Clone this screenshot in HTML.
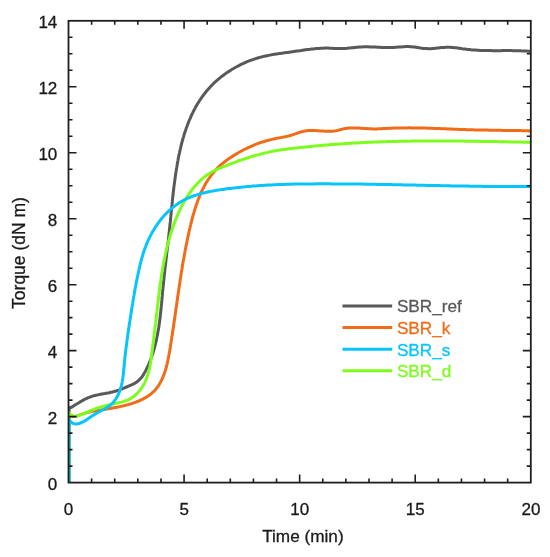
<!DOCTYPE html>
<html><head><meta charset="utf-8"><style>
html,body{margin:0;padding:0;background:#fff;width:550px;height:557px;overflow:hidden}
svg{display:block}
</style></head><body>
<svg width="550" height="557" viewBox="0 0 550 557">
<defs><clipPath id="c"><rect x="68.5" y="18.8" width="462.3" height="463.8"/></clipPath></defs>
<g clip-path="url(#c)" fill="none" stroke-width="3" stroke-linejoin="round" stroke-linecap="round">
<path stroke="#58595b" d="M69.10 482.50 L69.10 407.50 L70.80 407.60 L70.8 407.6 L72.1 406.9 L73.3 406.1 L74.6 405.3 L75.9 404.5 L77.2 403.7 L78.5 403.0 L79.7 402.2 L81.0 401.4 L82.4 400.7 L83.7 399.9 L85.0 399.2 L86.3 398.6 L87.7 397.9 L89.1 397.4 L90.5 396.8 L91.9 396.4 L93.3 395.9 L94.7 395.5 L96.1 395.2 L97.6 394.9 L99.1 394.6 L100.5 394.3 L102.0 394.0 L103.5 393.7 L104.9 393.5 L106.4 393.2 L107.9 392.9 L109.4 392.7 L110.8 392.3 L112.3 392.0 L113.7 391.6 L115.2 391.2 L116.6 390.8 L118.0 390.3 L119.5 389.8 L120.9 389.3 L122.3 388.8 L123.7 388.2 L125.1 387.6 L126.5 387.0 L127.9 386.4 L129.3 385.8 L130.7 385.2 L132.1 384.6 L133.5 383.9 L134.8 383.2 L136.1 382.4 L137.3 381.6 L138.4 380.7 L139.5 379.7 L140.5 378.6 L141.4 377.5 L142.3 376.3 L143.1 375.1 L143.9 373.8 L144.7 372.5 L145.4 371.2 L146.1 369.8 L146.8 368.5 L147.4 367.1 L148.0 365.8 L148.7 364.4 L149.2 363.1 L149.8 361.7 L150.4 360.3 L150.9 358.9 L151.4 357.5 L151.9 356.1 L152.4 354.7 L152.8 353.3 L153.3 351.9 L153.7 350.5 L154.1 349.0 L154.5 347.6 L154.9 346.2 L155.3 344.7 L155.6 343.3 L156.0 341.9 L156.3 340.4 L156.6 339.0 L156.9 337.5 L157.2 336.0 L157.5 334.6 L157.8 333.1 L158.0 331.6 L158.3 330.1 L158.5 328.7 L158.8 327.2 L159.0 325.7 L159.2 324.2 L159.4 322.7 L159.6 321.2 L159.8 319.7 L160.0 318.3 L160.2 316.8 L160.3 315.3 L160.5 313.8 L160.7 312.3 L160.8 310.8 L161.0 309.3 L161.1 307.7 L161.3 306.2 L161.4 304.7 L161.6 303.2 L161.7 301.7 L161.9 300.2 L162.0 298.7 L162.1 297.2 L162.3 295.7 L162.4 294.2 L162.5 292.7 L162.7 291.2 L162.8 289.7 L163.0 288.2 L163.1 286.7 L163.3 285.2 L163.4 283.7 L163.6 282.2 L163.7 280.7 L163.9 279.2 L164.0 277.7 L164.2 276.2 L164.3 274.7 L164.5 273.2 L164.7 271.7 L164.8 270.2 L165.0 268.7 L165.2 267.2 L165.3 265.7 L165.5 264.2 L165.7 262.7 L165.9 261.2 L166.0 259.7 L166.2 258.3 L166.4 256.8 L166.5 255.3 L166.7 253.8 L166.9 252.3 L167.1 250.8 L167.2 249.3 L167.4 247.9 L167.6 246.4 L167.8 244.9 L167.9 243.4 L168.1 241.9 L168.3 240.4 L168.4 239.0 L168.6 237.5 L168.8 236.0 L168.9 234.5 L169.1 233.0 L169.3 231.5 L169.4 230.1 L169.6 228.6 L169.7 227.1 L169.9 225.6 L170.0 224.1 L170.2 222.7 L170.4 221.2 L170.5 219.7 L170.6 218.2 L170.8 216.7 L170.9 215.2 L171.1 213.8 L171.2 212.3 L171.4 210.8 L171.5 209.3 L171.7 207.8 L171.8 206.4 L172.0 204.9 L172.1 203.4 L172.3 201.9 L172.4 200.4 L172.6 198.9 L172.7 197.5 L172.9 196.0 L173.1 194.5 L173.2 193.0 L173.4 191.5 L173.6 190.0 L173.7 188.5 L173.9 187.1 L174.1 185.6 L174.3 184.1 L174.5 182.6 L174.7 181.1 L174.9 179.6 L175.1 178.1 L175.3 176.7 L175.5 175.2 L175.7 173.7 L175.9 172.2 L176.2 170.7 L176.4 169.2 L176.7 167.7 L176.9 166.2 L177.2 164.7 L177.4 163.2 L177.7 161.7 L178.0 160.3 L178.2 158.8 L178.5 157.3 L178.8 155.8 L179.1 154.3 L179.5 152.8 L179.8 151.3 L180.1 149.8 L180.5 148.4 L180.8 146.9 L181.2 145.4 L181.5 143.9 L181.9 142.5 L182.3 141.0 L182.7 139.5 L183.1 138.1 L183.6 136.6 L184.0 135.2 L184.4 133.7 L184.9 132.3 L185.4 130.9 L185.9 129.4 L186.3 128.0 L186.9 126.6 L187.4 125.2 L187.9 123.8 L188.5 122.4 L189.0 121.0 L189.6 119.6 L190.2 118.3 L190.8 116.9 L191.4 115.5 L192.0 114.2 L192.7 112.9 L193.3 111.5 L194.0 110.2 L194.7 108.9 L195.4 107.6 L196.1 106.3 L196.8 105.0 L197.6 103.7 L198.4 102.5 L199.2 101.2 L200.0 100.0 L200.8 98.8 L201.6 97.6 L202.5 96.3 L203.4 95.2 L204.3 94.0 L205.2 92.8 L206.1 91.7 L207.0 90.5 L208.0 89.4 L209.0 88.3 L210.0 87.2 L211.0 86.1 L212.1 85.0 L213.1 84.0 L214.2 82.9 L215.3 81.9 L216.4 80.9 L217.6 79.9 L218.7 78.9 L219.9 78.0 L221.0 77.0 L222.2 76.1 L223.4 75.2 L224.7 74.3 L225.9 73.4 L227.1 72.5 L228.4 71.7 L229.7 70.9 L231.0 70.0 L232.2 69.3 L233.6 68.5 L234.9 67.7 L236.2 67.0 L237.5 66.3 L238.9 65.6 L240.2 64.9 L241.6 64.2 L243.0 63.6 L244.3 62.9 L245.7 62.3 L247.1 61.7 L248.5 61.2 L249.9 60.6 L251.3 60.1 L252.8 59.6 L254.2 59.1 L255.6 58.6 L257.0 58.2 L258.5 57.8 L259.9 57.4 L261.4 57.0 L262.8 56.6 L264.2 56.3 L265.7 56.0 L267.1 55.7 L268.6 55.4 L270.1 55.1 L271.5 54.8 L273.0 54.6 L274.4 54.3 L275.9 54.1 L277.4 53.9 L278.8 53.6 L280.3 53.4 L281.8 53.2 L283.3 53.0 L284.8 52.8 L286.2 52.6 L287.7 52.4 L289.2 52.2 L290.7 52.0 L292.2 51.8 L293.7 51.6 L295.2 51.3 L296.6 51.1 L298.1 50.9 L299.6 50.7 L301.1 50.5 L302.6 50.2 L304.1 50.0 L305.6 49.8 L307.1 49.6 L308.6 49.4 L310.1 49.3 L311.6 49.1 L313.1 48.9 L314.6 48.8 L316.1 48.6 L317.6 48.5 L319.1 48.4 L320.6 48.3 L322.1 48.2 L323.6 48.2 L325.1 48.1 L326.5 48.1 L328.0 48.1 L329.5 48.2 L331.0 48.2 L332.5 48.3 L334.0 48.4 L335.4 48.4 L336.9 48.5 L338.4 48.6 L339.9 48.6 L341.4 48.6 L342.8 48.6 L344.3 48.5 L345.8 48.4 L347.3 48.3 L348.8 48.1 L350.3 48.0 L351.8 47.8 L353.3 47.7 L354.7 47.5 L356.2 47.3 L357.7 47.2 L359.2 47.1 L360.7 47.0 L362.2 46.9 L363.7 46.8 L365.2 46.8 L366.7 46.8 L368.2 46.8 L369.7 46.9 L371.2 46.9 L372.7 47.0 L374.2 47.0 L375.7 47.1 L377.2 47.2 L378.7 47.2 L380.2 47.3 L381.7 47.4 L383.2 47.4 L384.7 47.5 L386.2 47.5 L387.7 47.5 L389.2 47.5 L390.7 47.5 L392.2 47.5 L393.7 47.4 L395.2 47.3 L396.7 47.2 L398.2 47.1 L399.7 47.0 L401.2 46.9 L402.7 46.8 L404.2 46.7 L405.7 46.6 L407.2 46.6 L408.7 46.6 L410.2 46.7 L411.6 46.8 L413.1 46.9 L414.6 47.1 L416.1 47.3 L417.6 47.5 L419.1 47.7 L420.6 48.0 L422.0 48.2 L423.5 48.4 L425.0 48.5 L426.5 48.6 L428.0 48.7 L429.5 48.7 L430.9 48.7 L432.4 48.6 L433.9 48.5 L435.4 48.3 L436.9 48.1 L438.4 48.0 L439.9 47.8 L441.3 47.6 L442.8 47.5 L444.3 47.4 L445.8 47.3 L447.3 47.2 L448.8 47.2 L450.3 47.3 L451.7 47.4 L453.2 47.5 L454.7 47.7 L456.2 47.8 L457.7 48.0 L459.2 48.2 L460.7 48.4 L462.2 48.7 L463.6 48.9 L465.1 49.1 L466.6 49.3 L468.1 49.4 L469.6 49.6 L471.1 49.8 L472.6 49.9 L474.1 50.0 L475.6 50.1 L477.1 50.2 L478.6 50.3 L480.1 50.4 L481.6 50.4 L483.1 50.5 L484.6 50.5 L486.1 50.6 L487.6 50.6 L489.1 50.6 L490.6 50.6 L492.1 50.7 L493.6 50.7 L495.1 50.7 L496.6 50.7 L498.1 50.7 L499.6 50.7 L501.0 50.7 L502.5 50.6 L504.0 50.6 L505.5 50.6 L507.0 50.6 L508.5 50.6 L510.0 50.6 L511.5 50.6 L513.0 50.7 L514.5 50.7 L516.0 50.7 L517.5 50.7 L519.0 50.8 L520.5 50.8 L522.0 50.9 L523.5 50.9 L525.0 51.0 L526.5 51.1 L528.0 51.2 L529.5 51.3 L531.0 51.4"/>
<path stroke="#f26b16" d="M69.10 482.50 L69.10 415.00 L69.1 415.0 L70.6 415.8 L72.1 416.3 L73.5 416.5 L75.0 416.4 L76.4 416.2 L77.7 415.8 L79.1 415.2 L80.5 414.7 L81.9 414.1 L83.3 413.6 L84.8 413.2 L86.2 412.8 L87.7 412.4 L89.2 412.0 L90.7 411.7 L92.1 411.4 L93.6 411.1 L95.1 410.9 L96.6 410.6 L98.1 410.4 L99.6 410.2 L101.0 409.9 L102.5 409.7 L104.0 409.5 L105.4 409.3 L106.8 409.0 L108.3 408.8 L109.7 408.6 L111.1 408.3 L112.6 408.1 L114.0 407.8 L115.4 407.5 L116.9 407.2 L118.3 407.0 L119.8 406.6 L121.2 406.3 L122.7 406.0 L124.2 405.6 L125.7 405.3 L127.1 404.9 L128.6 404.5 L130.1 404.0 L131.6 403.6 L133.1 403.1 L134.5 402.6 L136.0 402.1 L137.4 401.5 L138.8 401.0 L140.2 400.4 L141.6 399.7 L143.0 399.1 L144.3 398.3 L145.6 397.6 L146.9 396.8 L148.1 396.0 L149.3 395.2 L150.5 394.3 L151.6 393.4 L152.7 392.4 L153.8 391.4 L154.8 390.4 L155.8 389.3 L156.7 388.1 L157.6 387.0 L158.4 385.8 L159.2 384.5 L159.9 383.2 L160.7 382.0 L161.3 380.6 L162.0 379.3 L162.6 377.9 L163.2 376.5 L163.7 375.1 L164.3 373.7 L164.7 372.3 L165.2 370.9 L165.6 369.4 L166.1 368.0 L166.5 366.5 L166.8 365.1 L167.2 363.6 L167.5 362.1 L167.8 360.7 L168.1 359.2 L168.4 357.7 L168.7 356.2 L169.0 354.7 L169.2 353.2 L169.5 351.7 L169.8 350.2 L170.0 348.7 L170.3 347.3 L170.5 345.8 L170.7 344.3 L171.0 342.8 L171.2 341.3 L171.4 339.8 L171.7 338.3 L171.9 336.8 L172.1 335.4 L172.4 333.9 L172.6 332.4 L172.8 330.9 L173.0 329.4 L173.3 327.9 L173.5 326.5 L173.7 325.0 L173.9 323.5 L174.1 322.0 L174.3 320.5 L174.6 319.1 L174.8 317.6 L175.0 316.1 L175.2 314.6 L175.4 313.1 L175.6 311.7 L175.8 310.2 L176.0 308.7 L176.2 307.2 L176.5 305.8 L176.7 304.3 L176.9 302.8 L177.1 301.3 L177.3 299.9 L177.5 298.4 L177.7 296.9 L177.9 295.5 L178.1 294.0 L178.4 292.5 L178.6 291.0 L178.8 289.6 L179.0 288.1 L179.2 286.6 L179.4 285.2 L179.7 283.7 L179.9 282.2 L180.1 280.7 L180.3 279.3 L180.6 277.8 L180.8 276.3 L181.0 274.9 L181.2 273.4 L181.5 271.9 L181.7 270.4 L182.0 269.0 L182.2 267.5 L182.4 266.0 L182.7 264.6 L182.9 263.1 L183.2 261.6 L183.4 260.2 L183.7 258.7 L184.0 257.2 L184.2 255.7 L184.5 254.3 L184.8 252.8 L185.0 251.3 L185.3 249.9 L185.6 248.4 L185.9 246.9 L186.2 245.4 L186.5 244.0 L186.8 242.5 L187.1 241.0 L187.4 239.6 L187.7 238.1 L188.0 236.6 L188.3 235.1 L188.6 233.7 L189.0 232.2 L189.3 230.7 L189.6 229.2 L190.0 227.8 L190.3 226.3 L190.7 224.8 L191.0 223.3 L191.4 221.9 L191.8 220.4 L192.1 218.9 L192.5 217.4 L192.9 216.0 L193.3 214.5 L193.7 213.1 L194.2 211.6 L194.6 210.1 L195.1 208.7 L195.5 207.3 L196.0 205.8 L196.5 204.4 L197.0 203.0 L197.5 201.6 L198.0 200.2 L198.5 198.8 L199.1 197.4 L199.6 196.0 L200.2 194.6 L200.8 193.2 L201.4 191.9 L202.1 190.5 L202.7 189.2 L203.4 187.9 L204.1 186.6 L204.8 185.3 L205.5 184.0 L206.2 182.7 L207.0 181.5 L207.8 180.2 L208.6 179.0 L209.4 177.8 L210.3 176.6 L211.1 175.4 L212.0 174.3 L213.0 173.1 L213.9 172.0 L214.9 170.9 L215.9 169.8 L216.9 168.7 L217.9 167.6 L219.0 166.6 L220.1 165.6 L221.2 164.6 L222.4 163.6 L223.6 162.6 L224.8 161.7 L226.0 160.8 L227.2 159.9 L228.4 159.0 L229.7 158.1 L231.0 157.3 L232.3 156.4 L233.6 155.6 L234.9 154.8 L236.2 154.0 L237.5 153.2 L238.8 152.5 L240.1 151.8 L241.5 151.0 L242.8 150.3 L244.1 149.6 L245.4 149.0 L246.8 148.3 L248.1 147.7 L249.5 147.1 L250.8 146.5 L252.2 145.9 L253.5 145.3 L254.9 144.7 L256.3 144.2 L257.6 143.7 L259.0 143.2 L260.4 142.7 L261.8 142.2 L263.2 141.8 L264.7 141.3 L266.1 140.9 L267.5 140.5 L269.0 140.1 L270.4 139.7 L271.9 139.4 L273.4 139.0 L274.8 138.7 L276.3 138.4 L277.8 138.1 L279.3 137.9 L280.7 137.6 L282.2 137.3 L283.7 137.1 L285.1 136.8 L286.6 136.4 L288.1 136.1 L289.5 135.7 L291.0 135.3 L292.4 134.9 L293.8 134.4 L295.3 133.9 L296.7 133.4 L298.1 132.9 L299.5 132.4 L301.0 132.0 L302.4 131.6 L303.8 131.2 L305.3 130.9 L306.8 130.7 L308.2 130.6 L309.7 130.5 L311.2 130.5 L312.7 130.5 L314.2 130.5 L315.7 130.6 L317.2 130.7 L318.7 130.8 L320.2 130.9 L321.7 131.0 L323.2 131.1 L324.8 131.2 L326.3 131.3 L327.8 131.3 L329.3 131.3 L330.8 131.3 L332.3 131.2 L333.7 131.1 L335.2 130.9 L336.7 130.6 L338.1 130.2 L339.6 129.9 L341.0 129.5 L342.5 129.1 L343.9 128.8 L345.4 128.5 L346.9 128.3 L348.3 128.1 L349.8 128.0 L351.3 127.9 L352.8 127.9 L354.3 127.9 L355.8 127.9 L357.3 128.0 L358.8 128.1 L360.3 128.2 L361.8 128.3 L363.3 128.4 L364.8 128.5 L366.3 128.6 L367.9 128.7 L369.4 128.8 L370.9 128.8 L372.4 128.9 L373.9 128.9 L375.4 128.9 L376.9 128.9 L378.4 128.8 L379.9 128.8 L381.4 128.7 L382.9 128.6 L384.4 128.6 L385.9 128.5 L387.4 128.4 L388.9 128.3 L390.4 128.3 L391.9 128.2 L393.4 128.1 L394.9 128.1 L396.3 128.0 L397.8 128.0 L399.3 128.0 L400.8 127.9 L402.3 127.9 L403.8 127.9 L405.3 127.9 L406.8 127.9 L408.3 127.8 L409.8 127.8 L411.3 127.9 L412.8 127.9 L414.3 127.9 L415.8 127.9 L417.3 127.9 L418.8 127.9 L420.3 128.0 L421.8 128.0 L423.3 128.0 L424.8 128.1 L426.3 128.1 L427.8 128.2 L429.3 128.2 L430.8 128.3 L432.3 128.3 L433.8 128.4 L435.2 128.4 L436.7 128.5 L438.2 128.5 L439.7 128.6 L441.2 128.7 L442.7 128.7 L444.2 128.8 L445.7 128.8 L447.2 128.9 L448.7 129.0 L450.2 129.0 L451.7 129.1 L453.2 129.2 L454.7 129.2 L456.2 129.3 L457.7 129.3 L459.2 129.4 L460.7 129.4 L462.2 129.5 L463.7 129.6 L465.2 129.6 L466.7 129.7 L468.2 129.7 L469.7 129.7 L471.2 129.8 L472.7 129.8 L474.2 129.9 L475.7 129.9 L477.2 129.9 L478.7 130.0 L480.1 130.0 L481.6 130.0 L483.1 130.1 L484.6 130.1 L486.1 130.1 L487.6 130.1 L489.1 130.2 L490.6 130.2 L492.1 130.2 L493.6 130.2 L495.1 130.2 L496.6 130.3 L498.1 130.3 L499.6 130.3 L501.1 130.3 L502.6 130.4 L504.1 130.4 L505.6 130.4 L507.1 130.4 L508.6 130.4 L510.1 130.5 L511.6 130.5 L513.1 130.5 L514.6 130.5 L516.1 130.6 L517.6 130.6 L519.0 130.6 L520.5 130.6 L522.0 130.7 L523.5 130.7 L525.0 130.7 L526.5 130.8 L528.0 130.8 L529.5 130.9 L531.0 130.9"/>
<path stroke="#7dfc1e" d="M69.10 482.50 L69.10 412.50 L69.1 412.5 L70.1 414.0 L71.2 415.1 L72.3 415.8 L73.5 416.2 L74.7 416.3 L76.0 416.2 L77.4 415.9 L78.7 415.5 L80.1 415.1 L81.5 414.6 L82.9 414.0 L84.3 413.4 L85.7 412.8 L87.1 412.2 L88.6 411.6 L90.0 411.0 L91.4 410.4 L92.8 409.8 L94.2 409.3 L95.6 408.7 L97.0 408.2 L98.4 407.8 L99.8 407.3 L101.2 406.9 L102.6 406.5 L104.0 406.1 L105.4 405.7 L106.9 405.3 L108.3 405.0 L109.8 404.6 L111.2 404.3 L112.7 404.0 L114.2 403.7 L115.7 403.4 L117.2 403.1 L118.7 402.8 L120.2 402.4 L121.7 402.1 L123.2 401.7 L124.6 401.2 L126.0 400.7 L127.4 400.2 L128.8 399.6 L130.1 398.9 L131.3 398.1 L132.5 397.3 L133.7 396.5 L134.9 395.5 L136.0 394.6 L137.0 393.5 L138.0 392.5 L139.0 391.4 L140.0 390.2 L140.8 389.0 L141.7 387.8 L142.5 386.5 L143.3 385.2 L144.0 383.9 L144.7 382.6 L145.4 381.2 L146.0 379.9 L146.5 378.5 L147.0 377.1 L147.5 375.6 L148.0 374.2 L148.4 372.8 L148.8 371.3 L149.1 369.9 L149.5 368.4 L149.8 367.0 L150.1 365.5 L150.3 364.0 L150.6 362.5 L150.8 361.1 L151.0 359.6 L151.2 358.1 L151.4 356.6 L151.6 355.1 L151.8 353.6 L152.0 352.1 L152.2 350.6 L152.4 349.1 L152.5 347.6 L152.7 346.2 L152.9 344.7 L153.1 343.2 L153.3 341.7 L153.5 340.2 L153.7 338.7 L153.8 337.2 L154.0 335.8 L154.2 334.3 L154.4 332.8 L154.6 331.3 L154.8 329.8 L154.9 328.4 L155.1 326.9 L155.3 325.4 L155.5 323.9 L155.7 322.4 L155.8 320.9 L156.0 319.5 L156.2 318.0 L156.4 316.5 L156.5 315.0 L156.7 313.5 L156.9 312.0 L157.0 310.5 L157.2 309.1 L157.4 307.6 L157.6 306.1 L157.7 304.6 L157.9 303.1 L158.1 301.6 L158.3 300.1 L158.4 298.6 L158.6 297.1 L158.8 295.7 L159.0 294.2 L159.2 292.7 L159.4 291.2 L159.5 289.7 L159.7 288.2 L159.9 286.7 L160.1 285.2 L160.3 283.8 L160.5 282.3 L160.8 280.8 L161.0 279.3 L161.2 277.8 L161.4 276.3 L161.6 274.9 L161.9 273.4 L162.1 271.9 L162.3 270.4 L162.6 269.0 L162.8 267.5 L163.1 266.0 L163.4 264.5 L163.6 263.1 L163.9 261.6 L164.2 260.1 L164.5 258.7 L164.8 257.2 L165.1 255.7 L165.4 254.3 L165.7 252.8 L166.1 251.4 L166.4 249.9 L166.7 248.4 L167.1 247.0 L167.4 245.5 L167.8 244.1 L168.2 242.7 L168.6 241.2 L169.0 239.8 L169.4 238.3 L169.8 236.9 L170.2 235.5 L170.6 234.0 L171.1 232.6 L171.5 231.2 L172.0 229.8 L172.5 228.4 L173.0 226.9 L173.5 225.5 L174.0 224.1 L174.5 222.7 L175.0 221.3 L175.6 219.9 L176.1 218.5 L176.7 217.1 L177.3 215.7 L177.9 214.3 L178.5 213.0 L179.1 211.6 L179.7 210.2 L180.4 208.9 L181.1 207.5 L181.7 206.2 L182.4 204.8 L183.1 203.5 L183.9 202.2 L184.6 200.9 L185.4 199.6 L186.1 198.3 L186.9 197.0 L187.7 195.8 L188.6 194.5 L189.4 193.3 L190.3 192.1 L191.2 190.9 L192.1 189.7 L193.0 188.5 L193.9 187.4 L194.9 186.3 L195.9 185.1 L196.9 184.1 L197.9 183.0 L198.9 181.9 L200.0 180.9 L201.1 179.9 L202.2 178.9 L203.3 178.0 L204.4 177.0 L205.6 176.1 L206.8 175.3 L208.0 174.4 L209.3 173.6 L210.5 172.8 L211.8 172.0 L213.1 171.3 L214.4 170.6 L215.8 169.9 L217.1 169.3 L218.5 168.7 L219.9 168.1 L221.3 167.5 L222.7 166.9 L224.1 166.4 L225.5 165.8 L226.9 165.3 L228.3 164.7 L229.7 164.2 L231.1 163.6 L232.5 163.1 L234.0 162.6 L235.4 162.1 L236.8 161.6 L238.2 161.0 L239.6 160.5 L241.0 160.1 L242.4 159.6 L243.8 159.1 L245.3 158.6 L246.7 158.2 L248.1 157.7 L249.5 157.3 L250.9 156.8 L252.4 156.4 L253.8 156.0 L255.2 155.5 L256.7 155.1 L258.1 154.7 L259.5 154.4 L261.0 154.0 L262.4 153.6 L263.8 153.3 L265.3 152.9 L266.7 152.6 L268.2 152.2 L269.6 151.9 L271.1 151.6 L272.6 151.3 L274.0 151.0 L275.5 150.8 L277.0 150.5 L278.4 150.3 L279.9 150.0 L281.4 149.8 L282.9 149.6 L284.4 149.4 L285.8 149.2 L287.3 149.0 L288.8 148.8 L290.3 148.6 L291.8 148.4 L293.3 148.3 L294.8 148.1 L296.3 147.9 L297.8 147.8 L299.3 147.6 L300.8 147.5 L302.3 147.3 L303.7 147.2 L305.2 147.0 L306.7 146.9 L308.2 146.7 L309.7 146.6 L311.2 146.4 L312.7 146.3 L314.2 146.1 L315.6 146.0 L317.1 145.8 L318.6 145.7 L320.1 145.5 L321.6 145.4 L323.1 145.3 L324.6 145.1 L326.1 145.0 L327.5 144.9 L329.0 144.8 L330.5 144.6 L332.0 144.5 L333.5 144.4 L335.0 144.3 L336.5 144.2 L338.0 144.1 L339.5 144.0 L341.0 143.9 L342.4 143.8 L343.9 143.7 L345.4 143.6 L346.9 143.5 L348.4 143.4 L349.9 143.3 L351.4 143.2 L352.9 143.1 L354.4 143.0 L355.9 142.9 L357.4 142.9 L358.9 142.8 L360.4 142.7 L361.8 142.6 L363.3 142.6 L364.8 142.5 L366.3 142.4 L367.8 142.3 L369.3 142.3 L370.8 142.2 L372.3 142.2 L373.8 142.1 L375.3 142.0 L376.8 142.0 L378.3 141.9 L379.8 141.9 L381.3 141.8 L382.8 141.8 L384.3 141.7 L385.8 141.7 L387.3 141.6 L388.8 141.6 L390.3 141.5 L391.7 141.5 L393.2 141.5 L394.7 141.4 L396.2 141.4 L397.7 141.4 L399.2 141.3 L400.7 141.3 L402.2 141.3 L403.7 141.2 L405.2 141.2 L406.7 141.2 L408.2 141.2 L409.7 141.2 L411.2 141.1 L412.7 141.1 L414.2 141.1 L415.7 141.1 L417.2 141.1 L418.7 141.1 L420.2 141.0 L421.7 141.0 L423.2 141.0 L424.7 141.0 L426.2 141.0 L427.7 141.0 L429.2 141.0 L430.7 141.0 L432.2 141.0 L433.7 141.0 L435.2 141.0 L436.7 141.0 L438.2 141.0 L439.7 141.0 L441.2 141.0 L442.7 141.0 L444.2 141.0 L445.7 141.0 L447.2 141.0 L448.7 141.0 L450.2 141.0 L451.7 141.0 L453.2 141.0 L454.7 141.1 L456.2 141.1 L457.7 141.1 L459.2 141.1 L460.7 141.1 L462.2 141.1 L463.6 141.1 L465.1 141.2 L466.6 141.2 L468.1 141.2 L469.6 141.2 L471.1 141.2 L472.6 141.3 L474.1 141.3 L475.6 141.3 L477.1 141.3 L478.6 141.3 L480.1 141.4 L481.6 141.4 L483.1 141.4 L484.6 141.4 L486.1 141.5 L487.6 141.5 L489.1 141.5 L490.6 141.5 L492.1 141.6 L493.6 141.6 L495.1 141.6 L496.6 141.6 L498.1 141.7 L499.6 141.7 L501.1 141.7 L502.6 141.7 L504.1 141.8 L505.6 141.8 L507.1 141.8 L508.6 141.9 L510.1 141.9 L511.6 141.9 L513.1 141.9 L514.6 142.0 L516.1 142.0 L517.5 142.0 L519.0 142.1 L520.5 142.1 L522.0 142.1 L523.5 142.2 L525.0 142.2 L526.5 142.2 L528.0 142.2 L529.5 142.3 L531.0 142.3"/>
<path stroke="#08c4fc" d="M69.10 482.50 L69.10 419.50 L69.1 419.5 L70.1 421.0 L71.2 422.2 L72.4 423.0 L73.7 423.6 L75.0 423.9 L76.3 423.9 L77.7 423.8 L79.0 423.5 L80.4 423.0 L81.7 422.5 L83.0 421.9 L84.3 421.2 L85.6 420.4 L86.9 419.6 L88.1 418.7 L89.4 417.8 L90.7 417.0 L91.9 416.1 L93.2 415.2 L94.5 414.4 L95.9 413.6 L97.2 412.8 L98.5 412.1 L99.9 411.4 L101.2 410.7 L102.6 410.0 L103.9 409.3 L105.2 408.6 L106.5 407.9 L107.7 407.1 L108.9 406.3 L110.1 405.4 L111.2 404.5 L112.3 403.4 L113.3 402.4 L114.2 401.2 L115.1 400.0 L115.9 398.8 L116.7 397.5 L117.5 396.1 L118.1 394.8 L118.8 393.4 L119.3 392.0 L119.9 390.6 L120.3 389.2 L120.8 387.8 L121.2 386.3 L121.6 384.9 L121.9 383.4 L122.2 382.0 L122.4 380.5 L122.7 379.0 L122.9 377.5 L123.1 376.1 L123.3 374.6 L123.5 373.1 L123.6 371.6 L123.7 370.1 L123.9 368.6 L124.0 367.1 L124.2 365.6 L124.3 364.1 L124.4 362.6 L124.6 361.1 L124.7 359.6 L124.9 358.1 L125.0 356.6 L125.2 355.1 L125.4 353.6 L125.5 352.1 L125.7 350.7 L125.9 349.2 L126.1 347.7 L126.3 346.2 L126.5 344.7 L126.7 343.2 L126.9 341.7 L127.1 340.3 L127.3 338.8 L127.5 337.3 L127.7 335.8 L127.9 334.3 L128.1 332.9 L128.3 331.4 L128.5 329.9 L128.8 328.4 L129.0 326.9 L129.2 325.5 L129.4 324.0 L129.6 322.5 L129.9 321.0 L130.1 319.5 L130.3 318.1 L130.6 316.6 L130.8 315.1 L131.0 313.6 L131.2 312.1 L131.5 310.6 L131.7 309.2 L131.9 307.7 L132.2 306.2 L132.4 304.7 L132.7 303.2 L132.9 301.7 L133.1 300.3 L133.4 298.8 L133.6 297.3 L133.9 295.8 L134.2 294.3 L134.4 292.9 L134.7 291.4 L134.9 289.9 L135.2 288.4 L135.5 287.0 L135.8 285.5 L136.0 284.0 L136.3 282.5 L136.6 281.1 L136.9 279.6 L137.2 278.1 L137.5 276.7 L137.8 275.2 L138.1 273.7 L138.4 272.3 L138.7 270.8 L139.1 269.3 L139.4 267.9 L139.7 266.4 L140.1 265.0 L140.4 263.5 L140.8 262.1 L141.2 260.7 L141.6 259.2 L141.9 257.8 L142.4 256.4 L142.8 254.9 L143.2 253.5 L143.7 252.1 L144.1 250.7 L144.6 249.3 L145.1 247.9 L145.7 246.5 L146.2 245.1 L146.8 243.7 L147.3 242.3 L147.9 240.9 L148.6 239.5 L149.2 238.2 L149.9 236.8 L150.6 235.5 L151.3 234.1 L152.0 232.8 L152.7 231.5 L153.5 230.2 L154.3 228.9 L155.1 227.6 L155.9 226.3 L156.8 225.1 L157.6 223.8 L158.5 222.6 L159.4 221.4 L160.3 220.2 L161.3 219.0 L162.2 217.9 L163.2 216.7 L164.2 215.6 L165.2 214.5 L166.3 213.4 L167.3 212.4 L168.4 211.3 L169.5 210.3 L170.6 209.3 L171.7 208.4 L172.8 207.4 L174.0 206.5 L175.2 205.6 L176.4 204.7 L177.6 203.9 L178.8 203.1 L180.0 202.3 L181.3 201.6 L182.6 200.8 L183.9 200.1 L185.2 199.5 L186.5 198.8 L187.8 198.2 L189.2 197.6 L190.6 197.1 L191.9 196.5 L193.3 196.0 L194.7 195.5 L196.1 195.1 L197.6 194.6 L199.0 194.2 L200.4 193.8 L201.9 193.4 L203.3 193.0 L204.8 192.7 L206.3 192.3 L207.7 192.0 L209.2 191.7 L210.7 191.4 L212.2 191.1 L213.7 190.9 L215.2 190.6 L216.7 190.3 L218.2 190.1 L219.7 189.9 L221.2 189.6 L222.7 189.4 L224.2 189.2 L225.7 189.0 L227.2 188.8 L228.7 188.6 L230.2 188.4 L231.8 188.2 L233.3 188.1 L234.8 187.9 L236.3 187.7 L237.8 187.5 L239.3 187.4 L240.8 187.2 L242.2 187.1 L243.7 186.9 L245.2 186.8 L246.7 186.6 L248.2 186.5 L249.7 186.4 L251.2 186.3 L252.7 186.1 L254.2 186.0 L255.7 185.9 L257.2 185.8 L258.7 185.7 L260.2 185.6 L261.7 185.5 L263.2 185.4 L264.7 185.3 L266.1 185.2 L267.6 185.1 L269.1 185.0 L270.6 185.0 L272.1 184.9 L273.6 184.8 L275.1 184.7 L276.6 184.7 L278.1 184.6 L279.5 184.6 L281.0 184.5 L282.5 184.4 L284.0 184.4 L285.5 184.3 L287.0 184.3 L288.5 184.3 L290.0 184.2 L291.4 184.2 L292.9 184.1 L294.4 184.1 L295.9 184.1 L297.4 184.1 L298.9 184.0 L300.4 184.0 L301.9 184.0 L303.4 184.0 L304.8 183.9 L306.3 183.9 L307.8 183.9 L309.3 183.9 L310.8 183.9 L312.3 183.9 L313.8 183.9 L315.3 183.9 L316.8 183.8 L318.3 183.8 L319.8 183.8 L321.2 183.8 L322.7 183.8 L324.2 183.8 L325.7 183.8 L327.2 183.8 L328.7 183.8 L330.2 183.8 L331.7 183.9 L333.2 183.9 L334.7 183.9 L336.2 183.9 L337.7 183.9 L339.2 183.9 L340.7 183.9 L342.2 183.9 L343.7 183.9 L345.2 183.9 L346.7 184.0 L348.2 184.0 L349.7 184.0 L351.2 184.0 L352.7 184.0 L354.2 184.0 L355.7 184.0 L357.2 184.1 L358.7 184.1 L360.2 184.1 L361.7 184.1 L363.2 184.1 L364.7 184.2 L366.2 184.2 L367.7 184.2 L369.2 184.2 L370.7 184.3 L372.2 184.3 L373.7 184.3 L375.2 184.3 L376.7 184.4 L378.2 184.4 L379.7 184.4 L381.2 184.4 L382.7 184.5 L384.2 184.5 L385.7 184.5 L387.2 184.6 L388.7 184.6 L390.2 184.6 L391.7 184.6 L393.2 184.7 L394.7 184.7 L396.2 184.7 L397.7 184.8 L399.2 184.8 L400.7 184.8 L402.2 184.8 L403.7 184.9 L405.2 184.9 L406.7 184.9 L408.2 185.0 L409.7 185.0 L411.2 185.0 L412.7 185.1 L414.2 185.1 L415.7 185.1 L417.2 185.2 L418.7 185.2 L420.2 185.2 L421.7 185.3 L423.2 185.3 L424.7 185.3 L426.2 185.4 L427.7 185.4 L429.2 185.4 L430.7 185.4 L432.2 185.5 L433.7 185.5 L435.2 185.5 L436.7 185.6 L438.1 185.6 L439.6 185.6 L441.1 185.7 L442.6 185.7 L444.1 185.7 L445.6 185.7 L447.1 185.8 L448.6 185.8 L450.1 185.8 L451.6 185.9 L453.1 185.9 L454.6 185.9 L456.1 185.9 L457.6 186.0 L459.1 186.0 L460.6 186.0 L462.1 186.1 L463.6 186.1 L465.1 186.1 L466.6 186.1 L468.1 186.1 L469.6 186.2 L471.1 186.2 L472.6 186.2 L474.1 186.2 L475.6 186.3 L477.1 186.3 L478.6 186.3 L480.1 186.3 L481.6 186.3 L483.0 186.4 L484.5 186.4 L486.0 186.4 L487.5 186.4 L489.0 186.4 L490.5 186.4 L492.0 186.4 L493.5 186.5 L495.0 186.5 L496.5 186.5 L498.0 186.5 L499.5 186.5 L501.0 186.5 L502.5 186.5 L504.0 186.5 L505.5 186.5 L507.0 186.5 L508.5 186.5 L510.0 186.6 L511.5 186.6 L513.0 186.6 L514.5 186.6 L516.0 186.6 L517.5 186.6 L519.0 186.6 L520.5 186.6 L522.0 186.5 L523.5 186.5 L525.0 186.5 L526.5 186.5 L528.0 186.5 L529.5 186.5 L531.0 186.5"/>
</g>
<rect x="68.5" y="20.8" width="462.3" height="461.8" fill="none" stroke="#1e1e1e" stroke-width="1.8"/>
<path d="M68.5 466.11h4M530.8 466.11h-4M68.5 449.61h4M530.8 449.61h-4M68.5 433.12h4M530.8 433.12h-4M68.5 416.63h8M530.8 416.63h-8M68.5 400.14h4M530.8 400.14h-4M68.5 383.64h4M530.8 383.64h-4M68.5 367.15h4M530.8 367.15h-4M68.5 350.66h8M530.8 350.66h-8M68.5 334.16h4M530.8 334.16h-4M68.5 317.67h4M530.8 317.67h-4M68.5 301.18h4M530.8 301.18h-4M68.5 284.69h8M530.8 284.69h-8M68.5 268.19h4M530.8 268.19h-4M68.5 251.70h4M530.8 251.70h-4M68.5 235.21h4M530.8 235.21h-4M68.5 218.71h8M530.8 218.71h-8M68.5 202.22h4M530.8 202.22h-4M68.5 185.73h4M530.8 185.73h-4M68.5 169.24h4M530.8 169.24h-4M68.5 152.74h8M530.8 152.74h-8M68.5 136.25h4M530.8 136.25h-4M68.5 119.76h4M530.8 119.76h-4M68.5 103.26h4M530.8 103.26h-4M68.5 86.77h8M530.8 86.77h-8M68.5 70.28h4M530.8 70.28h-4M68.5 53.79h4M530.8 53.79h-4M68.5 37.29h4M530.8 37.29h-4M91.61 482.6v-4M91.61 20.8v4M114.73 482.6v-4M114.73 20.8v4M137.84 482.6v-4M137.84 20.8v4M160.96 482.6v-4M160.96 20.8v4M184.07 482.6v-8M184.07 20.8v8M207.19 482.6v-4M207.19 20.8v4M230.30 482.6v-4M230.30 20.8v4M253.42 482.6v-4M253.42 20.8v4M276.53 482.6v-4M276.53 20.8v4M299.65 482.6v-8M299.65 20.8v8M322.76 482.6v-4M322.76 20.8v4M345.88 482.6v-4M345.88 20.8v4M369.00 482.6v-4M369.00 20.8v4M392.11 482.6v-4M392.11 20.8v4M415.22 482.6v-8M415.22 20.8v8M438.34 482.6v-4M438.34 20.8v4M461.45 482.6v-4M461.45 20.8v4M484.57 482.6v-4M484.57 20.8v4M507.68 482.6v-4M507.68 20.8v4" stroke="#1e1e1e" stroke-width="1.6" fill="none"/>
<text x="57.3" y="489.60" font-family="'Liberation Sans', sans-serif" font-size="17" fill="#1a1a1a" stroke="#1a1a1a" stroke-width="0.3" text-anchor="end">0</text>
<text x="57.3" y="423.63" font-family="'Liberation Sans', sans-serif" font-size="17" fill="#1a1a1a" stroke="#1a1a1a" stroke-width="0.3" text-anchor="end">2</text>
<text x="57.3" y="357.66" font-family="'Liberation Sans', sans-serif" font-size="17" fill="#1a1a1a" stroke="#1a1a1a" stroke-width="0.3" text-anchor="end">4</text>
<text x="57.3" y="291.69" font-family="'Liberation Sans', sans-serif" font-size="17" fill="#1a1a1a" stroke="#1a1a1a" stroke-width="0.3" text-anchor="end">6</text>
<text x="57.3" y="225.71" font-family="'Liberation Sans', sans-serif" font-size="17" fill="#1a1a1a" stroke="#1a1a1a" stroke-width="0.3" text-anchor="end">8</text>
<text x="57.3" y="159.74" font-family="'Liberation Sans', sans-serif" font-size="17" fill="#1a1a1a" stroke="#1a1a1a" stroke-width="0.3" text-anchor="end">10</text>
<text x="57.3" y="93.77" font-family="'Liberation Sans', sans-serif" font-size="17" fill="#1a1a1a" stroke="#1a1a1a" stroke-width="0.3" text-anchor="end">12</text>
<text x="57.3" y="27.80" font-family="'Liberation Sans', sans-serif" font-size="17" fill="#1a1a1a" stroke="#1a1a1a" stroke-width="0.3" text-anchor="end">14</text>
<text x="68.60" y="515.1" font-family="'Liberation Sans', sans-serif" font-size="17" fill="#1a1a1a" stroke="#1a1a1a" stroke-width="0.3" text-anchor="middle">0</text>
<text x="184.17" y="515.1" font-family="'Liberation Sans', sans-serif" font-size="17" fill="#1a1a1a" stroke="#1a1a1a" stroke-width="0.3" text-anchor="middle">5</text>
<text x="299.75" y="515.1" font-family="'Liberation Sans', sans-serif" font-size="17" fill="#1a1a1a" stroke="#1a1a1a" stroke-width="0.3" text-anchor="middle">10</text>
<text x="415.32" y="515.1" font-family="'Liberation Sans', sans-serif" font-size="17" fill="#1a1a1a" stroke="#1a1a1a" stroke-width="0.3" text-anchor="middle">15</text>
<text x="530.90" y="515.1" font-family="'Liberation Sans', sans-serif" font-size="17" fill="#1a1a1a" stroke="#1a1a1a" stroke-width="0.3" text-anchor="middle">20</text>
<text x="302.9" y="541.9" font-family="'Liberation Sans', sans-serif" font-size="17.2" fill="#1a1a1a" stroke="#1a1a1a" stroke-width="0.3" text-anchor="middle">Time (min)</text>
<text transform="translate(25.2 253) rotate(-90)" x="0" y="0" font-family="'Liberation Sans', sans-serif" font-size="17.5" fill="#1a1a1a" stroke="#1a1a1a" stroke-width="0.3" text-anchor="middle">Torque (dN m)</text>
<line x1="342.5" y1="305.9" x2="392.2" y2="305.9" stroke="#58595b" stroke-width="3"/>
<text x="396.9" y="312.4" font-family="'Liberation Sans', sans-serif" font-size="17.2" fill="#58595b" stroke="#58595b" stroke-width="0.3">SBR_ref</text>
<line x1="342.5" y1="327.4" x2="392.2" y2="327.4" stroke="#f26b16" stroke-width="3"/>
<text x="396.9" y="333.9" font-family="'Liberation Sans', sans-serif" font-size="17.2" fill="#f26b16" stroke="#f26b16" stroke-width="0.3">SBR_k</text>
<line x1="342.5" y1="349.2" x2="392.2" y2="349.2" stroke="#08c4fc" stroke-width="3"/>
<text x="396.9" y="355.7" font-family="'Liberation Sans', sans-serif" font-size="17.2" fill="#08c4fc" stroke="#08c4fc" stroke-width="0.3">SBR_s</text>
<line x1="342.5" y1="370.8" x2="392.2" y2="370.8" stroke="#7dfc1e" stroke-width="3"/>
<text x="396.9" y="377.3" font-family="'Liberation Sans', sans-serif" font-size="17.2" fill="#7dfc1e" stroke="#7dfc1e" stroke-width="0.3">SBR_d</text>
</svg>
</body></html>
